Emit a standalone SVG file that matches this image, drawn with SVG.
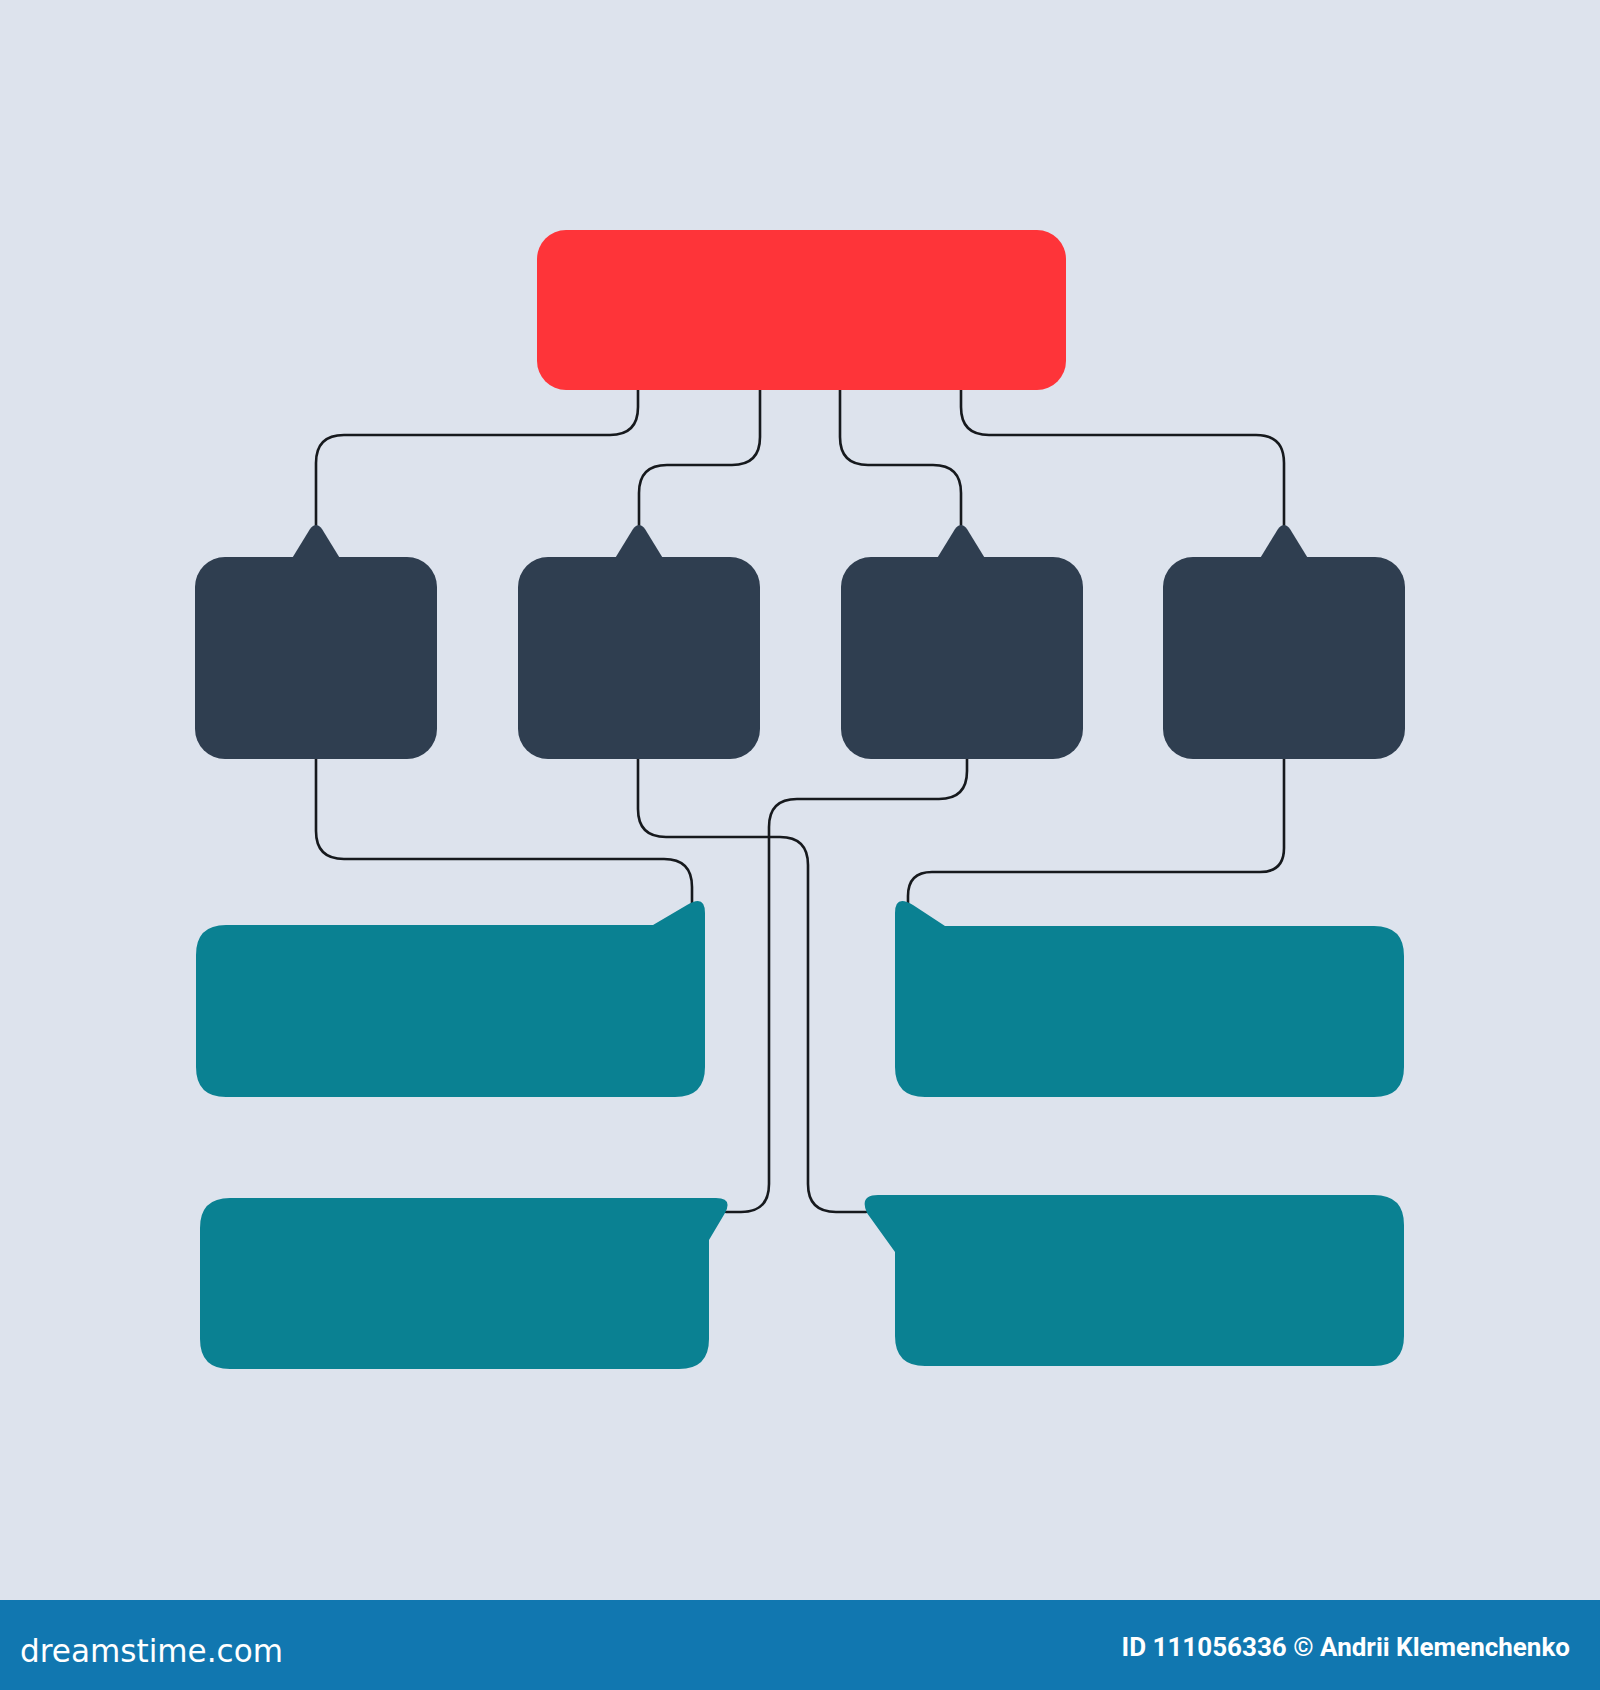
<svg xmlns="http://www.w3.org/2000/svg" width="1600" height="1690" viewBox="0 0 1600 1690">
<style>
.bg{fill:#dde3ed}
.red{fill:#fe3439}
.dark{fill:#2f3e50}
.teal{fill:#0a8192}
.conn{fill:none;stroke:#16191d;stroke-width:2.6;stroke-linecap:round}
.bar{fill:#1177b0}
.logo{font-family:"DejaVu Sans","Liberation Sans",sans-serif;font-size:32px;fill:#ffffff}
.credit{font-family:Roboto,"Liberation Sans",sans-serif;font-weight:bold;font-size:26px;fill:#ffffff}
</style>
<rect class="bg" x="0" y="0" width="1600" height="1690"/>

<g id="connectors">
  <path class="conn" d="M638 390 V407 Q638 435 610 435 H344 Q316 435 316 463 V525"/>
  <path class="conn" d="M760 390 V437 Q760 465 732 465 H667 Q639 465 639 493 V525"/>
  <path class="conn" d="M840 390 V437 Q840 465 868 465 H933 Q961 465 961 493 V525"/>
  <path class="conn" d="M961 390 V407 Q961 435 989 435 H1256 Q1284 435 1284 463 V525"/>
  <path class="conn" d="M316 759 V831 Q316 859 344 859 H664 Q692 859 692 887 V904"/>
  <path class="conn" d="M638 759 V809 Q638 837 666 837 H780 Q808 837 808 865 V1184 Q808 1212 836 1212 H866"/>
  <path class="conn" d="M967 759 V771 Q967 799 939 799 H797 Q769 799 769 827 V1184 Q769 1212 741 1212 H726"/>
  <path class="conn" d="M1284 759 V848 Q1284 872 1260 872 H932 Q908 872 908 896 V904"/>
</g>

<g id="root">
  <rect class="red" x="537" y="230" width="529" height="160" rx="29"/>
</g>

<g id="box1">
  <rect class="dark" x="195" y="557" width="242" height="202" rx="30"/>
  <path class="dark" d="M291 560 L310 529 Q316 521 322 529 L341 560 Z"/>
</g>
<g id="box2">
  <rect class="dark" x="518" y="557" width="242" height="202" rx="30"/>
  <path class="dark" d="M614 560 L633 529 Q639 521 645 529 L664 560 Z"/>
</g>
<g id="box3">
  <rect class="dark" x="841" y="557" width="242" height="202" rx="30"/>
  <path class="dark" d="M936 560 L955 529 Q961 521 967 529 L986 560 Z"/>
</g>
<g id="box4">
  <rect class="dark" x="1163" y="557" width="242" height="202" rx="30"/>
  <path class="dark" d="M1259 560 L1278 529 Q1284 521 1290 529 L1309 560 Z"/>
</g>

<g id="teal1">
  <path class="teal" d="M226 925 H653 L687 905 Q705 894 705 913 V1067 Q705 1097 675 1097 H226 Q196 1097 196 1067 V955 Q196 925 226 925 Z"/>
</g>
<g id="teal2">
  <path class="teal" d="M945 926 H1374 Q1404 926 1404 956 V1067 Q1404 1097 1374 1097 H925 Q895 1097 895 1067 V913 Q895 894 913 905 Z"/>
</g>
<g id="teal3">
  <path class="teal" d="M230 1198 H716 Q733 1198 725 1213 L709 1240 V1339 Q709 1369 679 1369 H230 Q200 1369 200 1339 V1228 Q200 1198 230 1198 Z"/>
</g>
<g id="teal4">
  <path class="teal" d="M1374 1195 Q1404 1195 1404 1225 V1336 Q1404 1366 1374 1366 H925 Q895 1366 895 1336 V1252 L867 1213 Q859 1195 878 1195 Z"/>
</g>

<g id="footer">
  <rect class="bar" x="0" y="1600" width="1600" height="90"/>
  <text class="logo" x="20" y="1662" textLength="263" lengthAdjust="spacingAndGlyphs">dreamstime.com</text>
  <text class="credit" x="1570" y="1656" text-anchor="end">ID 111056336 © Andrii Klemenchenko</text>
</g>
</svg>
